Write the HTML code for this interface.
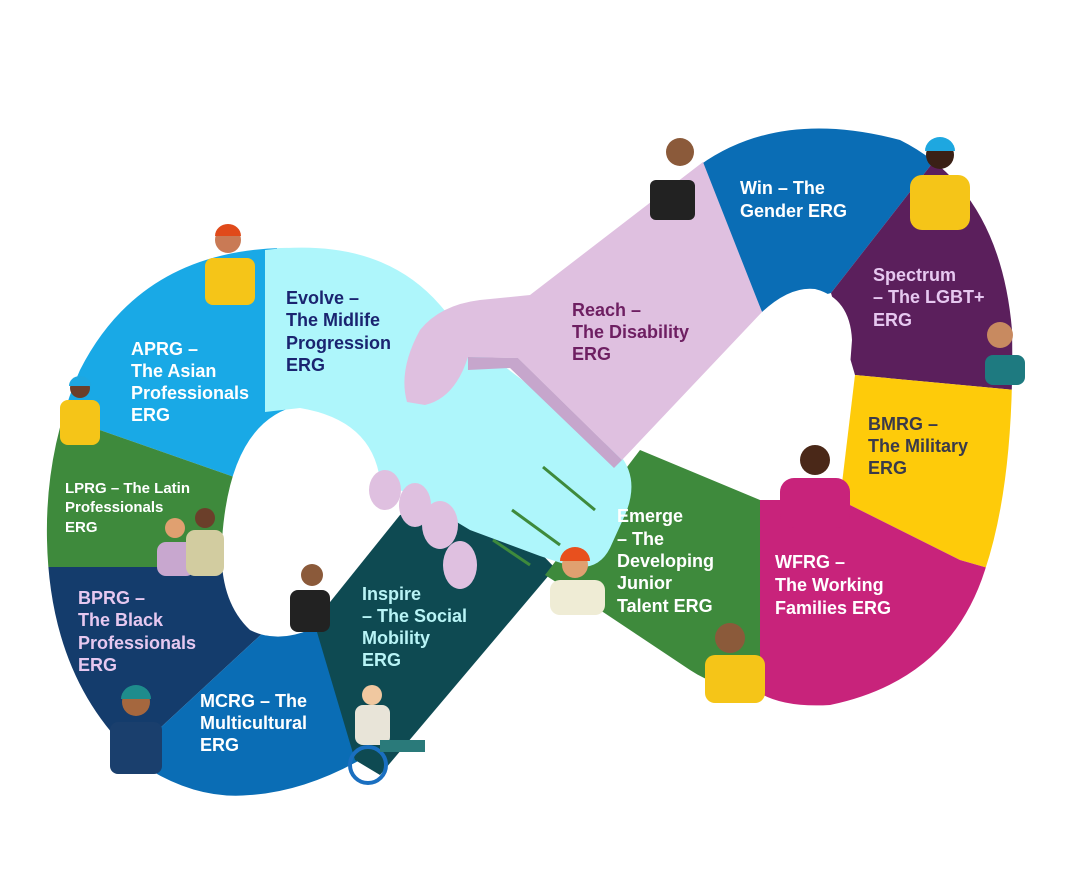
<!DOCTYPE html>
<html><head><meta charset="utf-8"><style>
html,body{margin:0;padding:0;background:#fff}
svg{display:block}
text{font-family:"Liberation Sans",sans-serif;font-weight:bold;font-size:18px;fill:#fff}
</style></head><body>
<svg width="1068" height="887" viewBox="0 0 1068 887" xmlns="http://www.w3.org/2000/svg">
<defs>
<clipPath id="L"><path d="M281,248 Q140,252 80,370 Q45,450 47,540 Q50,690 150,770 Q200,800 250,795 Q330,790 420,720 L500,500 L420,300 Q360,246 281,248 Z"/></clipPath>
<clipPath id="R"><path d="M700,165 Q780,108 900,140 Q1000,190 1012,330 Q1015,480 985,570 Q950,680 830,705 Q780,708 755,690 L755,500 L650,300 Z"/></clipPath>
</defs>
<g clip-path="url(#L)">
<polygon fill="#19a9e6" points="0,0 277,0 277,257 303,412 237,478 0,395"/>
<polygon fill="#3e8a3c" points="0,395 237,478 237,567 0,567"/>
<polygon fill="#143c6c" points="0,567 237,567 266,630 119,766 0,900"/>
<polygon fill="#0a6db5" points="119,766 266,630 314,622 420,760 420,900 0,900"/>
<polygon fill="#aef6fb" points="277,0 600,0 600,412 303,412 277,257"/>
</g>
<path fill="#fff" d="M300,405 Q362,400 395,430 L400,515 L318,626 Q280,645 250,630 Q218,600 222,540 Q230,420 300,405 Z"/>
<g clip-path="url(#R)">
<polygon fill="#0a6db5" points="762,312 700,162 640,0 1000,0 970,115 831,293"/>
<polygon fill="#5b1f5c" points="831,293 970,115 1100,0 1100,398 855,375"/>
<polygon fill="#fecb0a" points="855,375 1100,398 1100,600 960,560 840,500"/>
<polygon fill="#c8237b" points="840,500 960,560 1100,600 1100,800 755,800 755,500"/>
</g>
<path fill="#fff" d="M625,455 L762,312 Q790,286 815,289 Q850,298 852,340 L846,420 L840,500 L760,500 L640,450 Z"/>
<polygon fill="#0e4a52" points="314,622 400,515 480,490 555,568 380,775 355,760"/>
<path fill="#3e8a3c" d="M545,575 L640,450 L760,500 L760,690 Q720,690 690,670 L600,610 Z"/>
<path fill="#aef6fb" d="M265,250 Q380,236 440,305 L470,340 L620,455 Q640,480 625,515 L610,548 Q598,572 570,566 L540,556 L470,530 L420,500 L380,480 Q372,420 300,408 L265,412 Z"/>
<g stroke="#3e8a3c" stroke-width="3"><line x1="543" y1="467" x2="595" y2="510"/><line x1="512" y1="510" x2="560" y2="545"/><line x1="493" y1="540" x2="530" y2="565"/></g>
<path fill="#dfc0e0" d="M407,402 Q398,370 420,330 Q440,305 480,300 L530,295 L703,162 L762,312 L622,460 L518,358 L468,357 Q455,398 425,405 Z"/>
<polygon fill="#c6a6cc" points="468,357 518,358 622,460 614,468 510,368 468,370"/>
<g fill="#dfc0e0">
<ellipse cx="385" cy="490" rx="16" ry="20"/>
<ellipse cx="415" cy="505" rx="16" ry="22"/>
<ellipse cx="440" cy="525" rx="18" ry="24"/>
<ellipse cx="460" cy="565" rx="17" ry="24"/>
</g>
<g>
<rect x="205" y="258" width="50" height="47" rx="8" fill="#f5c518"/><circle cx="228" cy="240" r="13" fill="#c97a55"/><path d="M215,236 a13,12 0 0,1 26,0z" fill="#e04a1a"/>
<rect x="60" y="400" width="40" height="45" rx="8" fill="#f5c518"/><circle cx="80" cy="388" r="10" fill="#6b3f2a"/><path d="M69,386 a11,10 0 0,1 22,0z" fill="#1ea7e0"/>
<rect x="157" y="542" width="38" height="34" rx="9" fill="#c8a7cf"/><circle cx="175" cy="528" r="10" fill="#e0a070"/><rect x="186" y="530" width="38" height="46" rx="9" fill="#d2cca0"/><circle cx="205" cy="518" r="10" fill="#6b3f2a"/>
<rect x="110" y="722" width="52" height="52" rx="8" fill="#1a3f6d"/><circle cx="136" cy="702" r="14" fill="#a5673e"/><path d="M121,699 a15,14 0 0,1 30,0z" fill="#1e8c8c"/>
<rect x="290" y="590" width="40" height="42" rx="8" fill="#222"/><circle cx="312" cy="575" r="11" fill="#8b5a3a"/>
<rect x="355" y="705" width="35" height="40" rx="8" fill="#e8e4d8"/><circle cx="372" cy="695" r="10" fill="#f0c8a0"/><circle cx="368" cy="765" r="18" fill="none" stroke="#1a6fc0" stroke-width="4"/><rect x="380" y="740" width="45" height="12" fill="#2a7a7a"/>
<rect x="550" y="580" width="55" height="35" rx="10" fill="#efecd5"/><circle cx="575" cy="565" r="13" fill="#e0a070"/><path d="M560,561 a15,14 0 0,1 30,0z" fill="#e8501e"/>
<rect x="650" y="180" width="45" height="40" rx="6" fill="#222"/><circle cx="680" cy="152" r="14" fill="#8b5a3a"/>
<rect x="910" y="175" width="60" height="55" rx="12" fill="#f5c518"/><circle cx="940" cy="155" r="14" fill="#3a2016"/><path d="M925,151 a15,14 0 0,1 30,0z" fill="#1ea7e0"/>
<rect x="985" y="355" width="40" height="30" rx="8" fill="#1e7a80"/><circle cx="1000" cy="335" r="13" fill="#c88a60"/>
<rect x="780" y="478" width="70" height="50" rx="14" fill="#c8237b"/><circle cx="815" cy="460" r="15" fill="#4a2818"/>
<rect x="705" y="655" width="60" height="48" rx="10" fill="#f5c518"/><circle cx="730" cy="638" r="15" fill="#8b5a3a"/>
</g>
<g>
<text style="fill:#1a2470"><tspan x="286" y="304">Evolve –</tspan><tspan x="286" y="326">The Midlife</tspan><tspan x="286" y="349">Progression</tspan><tspan x="286" y="371">ERG</tspan></text>
<text><tspan x="131" y="355">APRG –</tspan><tspan x="131" y="377">The Asian</tspan><tspan x="131" y="399">Professionals</tspan><tspan x="131" y="421">ERG</tspan></text>
<text style="font-size:15px"><tspan x="65" y="493">LPRG – The Latin</tspan><tspan x="65" y="512">Professionals</tspan><tspan x="65" y="532">ERG</tspan></text>
<text style="fill:#e6c8f0"><tspan x="78" y="604">BPRG –</tspan><tspan x="78" y="626">The Black</tspan><tspan x="78" y="649">Professionals</tspan><tspan x="78" y="671">ERG</tspan></text>
<text><tspan x="200" y="707">MCRG – The</tspan><tspan x="200" y="729">Multicultural</tspan><tspan x="200" y="751">ERG</tspan></text>
<text style="fill:#b8f4f6"><tspan x="362" y="600">Inspire</tspan><tspan x="362" y="622">– The Social</tspan><tspan x="362" y="644">Mobility</tspan><tspan x="362" y="666">ERG</tspan></text>
<text><tspan x="617" y="522">Emerge</tspan><tspan x="617" y="545">– The</tspan><tspan x="617" y="567">Developing</tspan><tspan x="617" y="589">Junior</tspan><tspan x="617" y="612">Talent ERG</tspan></text>
<text style="fill:#6e1f62"><tspan x="572" y="316">Reach –</tspan><tspan x="572" y="338">The Disability</tspan><tspan x="572" y="360">ERG</tspan></text>
<text><tspan x="740" y="194">Win – The</tspan><tspan x="740" y="217">Gender ERG</tspan></text>
<text style="fill:#e6c8f0"><tspan x="873" y="281">Spectrum</tspan><tspan x="873" y="303">– The LGBT+</tspan><tspan x="873" y="326">ERG</tspan></text>
<text style="fill:#3a3a4a"><tspan x="868" y="430">BMRG –</tspan><tspan x="868" y="452">The Military</tspan><tspan x="868" y="474">ERG</tspan></text>
<text><tspan x="775" y="568">WFRG –</tspan><tspan x="775" y="591">The Working</tspan><tspan x="775" y="614">Families ERG</tspan></text>
</g>
</svg>
</body></html>
